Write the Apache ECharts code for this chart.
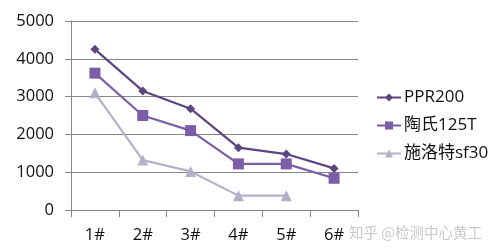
<!DOCTYPE html>
<html><head><meta charset="utf-8">
<script src="https://cdn.jsdelivr.net/npm/echarts@6/dist/echarts.min.js"></script>
<style>html,body{margin:0;padding:0;background:#fff}#c{width:496px;height:251px}</style>
</head><body><div id="c"></div>
<script>
const categories = ['1#','2#','3#','4#','5#','6#'];
const yTicks = [0,1000,2000,3000,4000,5000];
const ppr200 = [4250,3150,2680,1650,1480,1100];
const tao125T = [3620,2500,2100,1220,1220,840];
const sf30 = [3100,1320,1020,380,380,null];
const names = ['PPR200','陶氏125T','施洛特sf30'];
const font = 'Open Sans, Liberation Sans, Noto Sans CJK SC, sans-serif';
const chart = echarts.init(document.getElementById('c'));
chart.setOption({
  animation:false,
  grid:{left:71,right:138,top:21,bottom:41,containLabel:false},
  legend:{orient:'vertical',left:371,top:84,itemGap:11,itemWidth:24,itemHeight:10,
    textStyle:{fontSize:17,color:'#111',fontFamily:font,padding:[0,0,0,-2]},
    data:names},
  xAxis:{type:'category',data:categories,boundaryGap:true,
    axisLine:{lineStyle:{color:'#868686',width:1}},
    axisTick:{show:true,length:7,alignWithLabel:false,lineStyle:{color:'#868686'}},
    axisLabel:{fontSize:16.5,color:'#111',margin:17,fontFamily:font}},
  yAxis:{type:'value',min:0,max:5000,interval:1000,
    axisLine:{show:true,lineStyle:{color:'#868686'}},
    axisTick:{show:true,length:6,lineStyle:{color:'#868686'}},
    splitLine:{lineStyle:{color:'#868686',width:1}},
    axisLabel:{fontSize:16.5,color:'#111',margin:17,fontFamily:font,formatter:v=>String(v)}},
  series:[
    {name:names[0],type:'line',data:ppr200,symbol:'diamond',symbolSize:9,
      itemStyle:{color:'#5b4680'},lineStyle:{color:'#5b4680',width:2.2}},
    {name:names[1],type:'line',data:tao125T,symbol:'rect',symbolSize:11,
      itemStyle:{color:'#7b5ea7'},lineStyle:{color:'#7b5ea7',width:2.2}},
    {name:names[2],type:'line',data:sf30,symbol:'triangle',symbolSize:11,connectNulls:false,
      itemStyle:{color:'#b4b0c8'},lineStyle:{color:'#b4b0c8',width:2.2}}
  ],
  graphic:[{type:'text',left:349,top:225,style:{text:'知乎 @检测中心黄工',fontSize:14.5,fill:'#c8c8c8',fontFamily:'Noto Sans CJK SC, sans-serif'}}]
});
</script></body></html>
